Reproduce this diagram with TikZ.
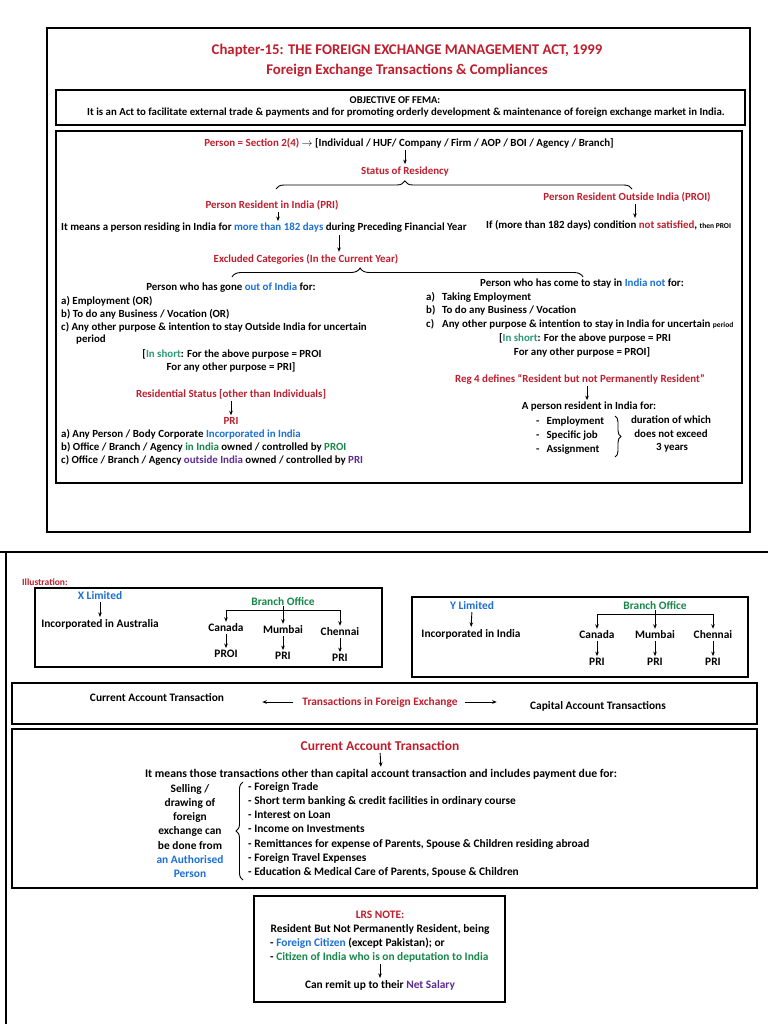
\documentclass[tikz,border=0pt]{standalone}
\usepackage{fontspec}
\setmainfont{Carlito}
\usetikzlibrary{arrows.meta,decorations.pathreplacing}
\definecolor{fred}{HTML}{BE1E2D}
\definecolor{fblue}{HTML}{1B6FD6}
\definecolor{fgreen}{HTML}{17874A}
\definecolor{fteal}{HTML}{2A9A74}
\definecolor{fpurple}{HTML}{5B2C93}
\newcommand{\cred}[1]{\textcolor{fred}{#1}}
\newcommand{\cblue}[1]{\textcolor{fblue}{#1}}
\newcommand{\cgreen}[1]{\textcolor{fgreen}{#1}}
\newcommand{\cteal}[1]{\textcolor{fteal}{#1}}
\newcommand{\cpurple}[1]{\textcolor{fpurple}{#1}}
\newcommand{\smtxt}{\fontsize{7.5}{8}\selectfont}
\tikzset{
  base/.style={inner sep=0pt, font=\bfseries\fontsize{10.9}{13}\selectfont},
  lft/.style={base, anchor=west},
  hd/.style={base, text=fred},
  pg/.style={inner sep=0pt, font=\bfseries\fontsize{11.4}{14.2}\selectfont},
  pglft/.style={pg, anchor=west},
  ttl/.style={inner sep=0pt, text=fred, font=\bfseries\fontsize{14.8}{17}\selectfont},
  pagebox/.style={draw, line width=2.4pt},
  box/.style={draw, line width=1.4pt},
  arr/.style={-{Stealth[length=4.5pt,width=3.6pt]}, line width=0.9pt},
  brc/.style={decorate, line width=0.9pt}
}
\begin{document}
\begin{tikzpicture}[x=1pt,y=-1pt]
\useasboundingbox (0,0) rectangle (768,1024);
\fill[white] (0,0) rectangle (768,1024);

% ---------------- page 1 ----------------
\draw[pagebox] (47,28) rectangle (750,532);
\draw[box] (56,90) rectangle (745,125);
\draw[box] (56,131) rectangle (742,483);

\node[ttl] (title1) at (407,50) {Chapter-15: THE FOREIGN EXCHANGE MANAGEMENT ACT, 1999};
\node[ttl] (title2) at (407,71) {Foreign Exchange Transactions \& Compliances};

\node[base, font=\bfseries\fontsize{10.4}{12}\selectfont] (obj1) at (395,100) {OBJECTIVE OF FEMA:};
\node[base, font=\bfseries\fontsize{10.8}{12}\selectfont] (obj2) at (406,113) {It is an Act to facilitate external trade \& payments and for promoting orderly development \& maintenance of foreign exchange market in India.};

\node[base] (person) at (409,143) {\cred{Person = Section 2(4)} $\rightarrow$ [Individual / HUF/ Company / Firm / AOP / BOI / Agency / Branch]};
\node[hd] (status) at (405,172) {Status of Residency};
\draw[arr, shorten <=2pt, shorten >=3pt] (person.south -| status) -- (status.north);

\draw[brc, decoration={brace, amplitude=8pt, aspect=0.362}] (276,189) -- (632,189);
\node[hd] (pri) at (272,205) {Person Resident in India (PRI)};
\node[hd] (proi) at (627,197) {Person Resident Outside India (PROI)};

\node[lft] (mean) at (61,228) {It means a person residing in India for \cblue{more than 182 days} during Preceding Financial Year};
\node[lft] (ifnot) at (486,225) {If (more than 182 days) condition \cred{not satisfied}, {\smtxt then PROI}};
\draw[arr, shorten <=2pt, shorten >=2pt] ([xshift=6pt]pri.south) -- ([xshift=6pt]pri.south |- mean.north);
\draw[arr, shorten <=2pt, shorten >=2pt] ([xshift=8pt]proi.south) -- ([xshift=8pt]proi.south |- ifnot.north);

\node[hd] (excl) at (306,259) {Excluded Categories (In the Current Year)};
\draw[arr, shorten <=2pt, shorten >=2pt] ([xshift=33pt]excl.north |- mean.south) -- ([xshift=33pt]excl.north);
\draw[brc, decoration={brace, amplitude=9pt, aspect=0.365}] (232,277) -- (583,277);

% left column
\node[base] (gone) at (231,288) {Person who has gone \cblue{out of India} for:};
\node[lft] (la) at (61,301) {a) Employment (OR)};
\node[lft] (lb) at (61,314) {b) To do any Business / Vocation (OR)};
\node[lft] (lc) at (61,327) {c) Any other purpose \& intention to stay Outside India for uncertain};
\node[lft] (lc2) at (76,340) {period};
\node[base] (ls1) at (232,354) {[\cteal{In short}: For the above purpose = PROI};
\node[base] (ls2) at (231,367) {For any other purpose = PRI]};
\node[hd] (rs) at (231,394) {Residential Status [other than Individuals]};
\node[hd] (pri2) at (231,421) {PRI};
\draw[arr, shorten <=2pt, shorten >=2pt] (rs.south) -- (pri2.north);
\node[lft] (pa) at (61,434) {a) Any Person / Body Corporate \cblue{Incorporated in India}};
\node[lft] (pb) at (61,447) {b) Office / Branch / Agency \cgreen{in India} owned / controlled by \cgreen{PROI}};
\node[lft] (pc) at (61,460) {c) Office / Branch / Agency \cpurple{outside India} owned / controlled by \cpurple{PRI}};

% right column
\node[base] (come) at (582,284) {Person who has come to stay in \cblue{India not} for:};
\node[lft] (ra) at (426,297) {\makebox[16pt][l]{a)}Taking Employment};
\node[lft] (rb) at (426,310) {\makebox[16pt][l]{b)}To do any Business / Vocation};
\node[lft] (rc) at (426,324) {\makebox[16pt][l]{c)}Any other purpose \& intention to stay in India for uncertain {\smtxt period}};
\node[base] (rs1) at (585,338) {[\cteal{In short}: For the above purpose = PRI};
\node[base] (rs2) at (582,352) {For any other purpose = PROI]};
\node[hd] (reg) at (580,379) {Reg 4 defines “Resident but not Permanently Resident”};
\node[base] (apr) at (589,407) {A person resident in India for:};
\draw[arr, shorten <=2pt, shorten >=2pt] ([xshift=7pt]reg.south) -- ([xshift=7pt]reg.south |- apr.north);
\node[lft] (emp) at (536,422) {-\hspace{7pt}Employment};
\node[lft] (spec) at (536,436) {-\hspace{7pt}Specific job};
\node[lft] (asg) at (536,450) {-\hspace{7pt}Assignment};
\draw[brc, decoration={brace, amplitude=6pt}] (615,416) -- (615,457);
\node[base] (dur1) at (671,420) {duration of which};
\node[base] (dur2) at (671,434) {does not exceed};
\node[base] (dur3) at (672,448) {3 years};

% ---------------- page 2 ----------------
\draw[line width=2.6pt] (0,552) -- (768,552);
\draw[line width=2.4pt] (6,552) -- (6,1024);

\node[inner sep=0pt, anchor=west, text=fred, font=\bfseries\fontsize{9.5}{10}\selectfont] (illus) at (22,582) {Illustration:};

% box X
\draw[box] (35,588) rectangle (382,667);
\node[pg, text=fblue] (xl) at (100,596) {X Limited};
\node[pg] (inc1) at (100,624) {Incorporated in Australia};
\draw[arr, shorten <=2pt, shorten >=2pt] (xl.south) -- (inc1.north);
\node[pg, text=fgreen] (bo1) at (283,602) {Branch Office};
\node[pg] (can1) at (226,628) {Canada};
\node[pg] (mum1) at (283,630) {Mumbai};
\node[pg] (che1) at (340,632) {Chennai};
\coordinate (j1) at (283,610);
\draw[line width=0.9pt] (bo1.south) -- (j1);
\draw[arr, shorten >=2pt] (j1) -| (can1.north);
\draw[arr, shorten >=2pt] (j1) -- (mum1.north);
\draw[arr, shorten >=2pt] (j1) -| (che1.north);
\node[pg] (p1a) at (226,654) {PROI};
\node[pg] (p1b) at (283,656) {PRI};
\node[pg] (p1c) at (340,658) {PRI};
\draw[arr, shorten <=2pt, shorten >=2pt] (can1.south) -- (p1a.north);
\draw[arr, shorten <=2pt, shorten >=2pt] (mum1.south) -- (p1b.north);
\draw[arr, shorten <=2pt, shorten >=2pt] (che1.south) -- (p1c.north);

% box Y
\draw[box] (412,597) rectangle (748,677);
\node[pg, text=fblue] (yl) at (472,606) {Y Limited};
\node[pg] (inc2) at (471,634) {Incorporated in India};
\draw[arr, shorten <=2pt, shorten >=2pt] (yl.south) -- (inc2.north);
\node[pg, text=fgreen] (bo2) at (655,606) {Branch Office};
\node[pg] (can2) at (597,635) {Canada};
\node[pg] (mum2) at (655,635) {Mumbai};
\node[pg] (che2) at (713,635) {Chennai};
\coordinate (j2) at (655,614);
\draw[line width=0.9pt] (bo2.south) -- (j2);
\draw[arr, shorten >=2pt] (j2) -| (can2.north);
\draw[arr, shorten >=2pt] (j2) -- (mum2.north);
\draw[arr, shorten >=2pt] (j2) -| (che2.north);
\node[pg] (p2a) at (597,662) {PRI};
\node[pg] (p2b) at (655,662) {PRI};
\node[pg] (p2c) at (713,662) {PRI};
\draw[arr, shorten <=2pt, shorten >=2pt] (can2.south) -- (p2a.north);
\draw[arr, shorten <=2pt, shorten >=2pt] (mum2.south) -- (p2b.north);
\draw[arr, shorten <=2pt, shorten >=2pt] (che2.south) -- (p2c.north);

% transactions band
\draw[box] (12,683) rectangle (757,724);
\node[pg] (cat) at (157,698) {Current Account Transaction};
\node[pg, text=fred] (tife) at (380,702) {Transactions in Foreign Exchange};
\node[pg] (capt) at (598,706) {Capital Account Transactions};
\draw[arr] ([xshift=-9pt]tife.west) -- ([xshift=-40pt]tife.west);
\draw[arr] ([xshift=7pt]tife.east) -- ([xshift=39pt]tife.east);

% current account box
\draw[box] (12,729) rectangle (757,888);
\node[inner sep=0pt, text=fred, font=\bfseries\fontsize{13.5}{15}\selectfont] (cah) at (380,746) {Current Account Transaction};
\node[pg, font=\bfseries\fontsize{11.7}{14}\selectfont] (means) at (381,774) {It means those transactions other than capital account transaction and includes payment due for:};
\draw[arr, shorten <=2pt, shorten >=2pt] (cah.south) -- (means.north);
\node[pg, align=center] (sell) at (190,831) {Selling /\\drawing of\\foreign\\exchange can\\be done from\\\cblue{an Authorised}\\\cblue{Person}};
\draw[brc, decoration={brace, amplitude=7pt}] (243,880) -- (243,782);
\node[pg, align=left, anchor=north west] (items) at (248,782) {- Foreign Trade\\- Short term banking \& credit facilities in ordinary course\\- Interest on Loan\\- Income on Investments\\- Remittances for expense of Parents, Spouse \& Children residing abroad\\- Foreign Travel Expenses\\- Education \& Medical Care of Parents, Spouse \& Children};

% LRS box
\draw[box] (254,896) rectangle (505,1002);
\node[pg, text=fred] (lrs1) at (380,915) {LRS NOTE:};
\node[pg] (lrs2) at (380,929) {Resident But Not Permanently Resident, being};
\node[pglft] (lrs3) at (270,943) {- \cblue{Foreign Citizen} (except Pakistan); or};
\node[pglft] (lrs4) at (270,957) {- \cgreen{Citizen of India who is on deputation to India}};
\node[pg] (lrs5) at (380,985) {Can remit up to their \cpurple{Net Salary}};
\draw[arr, shorten <=2pt, shorten >=2pt] (lrs4.south -| lrs5) -- (lrs5.north);
\end{tikzpicture}
\end{document}
